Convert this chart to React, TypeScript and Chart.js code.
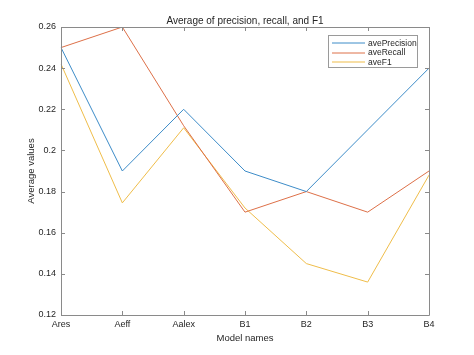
import React, { useEffect, useRef } from "react";
import { Chart, registerables } from "chart.js";

Chart.register(...registerables);

const categories = ["Ares", "Aeff", "Aalex", "B1", "B2", "B3", "B4"];
const avePrecision = [0.25, 0.19, 0.22, 0.19, 0.18, 0.21, 0.24];
const aveRecall = [0.25, 0.26, 0.212, 0.17, 0.18, 0.17, 0.19];
const aveF1 = [0.242, 0.1745, 0.211, 0.172, 0.145, 0.136, 0.188];
const seriesNames = ["avePrecision", "aveRecall", "aveF1"];
const seriesColors = ["#3d8cc8", "#dd7048", "#efbd4a"];
const yMin = 0.12;
const yMax = 0.26;
const yStep = 0.02;

const FONT = "'Liberation Sans', Arial, sans-serif";
const TEXT = "#262626";
const AXIS = "#8a8a8a";

const framePlugin = {
  id: "matlabFrame",
  afterDraw(chart: any) {
    const { ctx, chartArea } = chart;
    const { left, right, top, bottom } = chartArea;
    const xs = chart.scales.x;
    const ys = chart.scales.y;
    ctx.save();
    ctx.strokeStyle = AXIS;
    ctx.lineWidth = 1;
    ctx.beginPath();
    ctx.rect(Math.round(left) + 0.5, Math.round(top) + 0.5, Math.round(right - left), Math.round(bottom - top));
    ctx.stroke();
    const tl = 4;
    ctx.beginPath();
    for (let i = 0; i < categories.length; i++) {
      const x = Math.round(xs.getPixelForValue(i)) + 0.5;
      ctx.moveTo(x, bottom);
      ctx.lineTo(x, bottom - tl);
      ctx.moveTo(x, top);
      ctx.lineTo(x, top + tl);
    }
    for (let v = yMin; v <= yMax + 1e-9; v += yStep) {
      const y = Math.round(ys.getPixelForValue(v)) + 0.5;
      ctx.moveTo(left, y);
      ctx.lineTo(left + tl, y);
      ctx.moveTo(right, y);
      ctx.lineTo(right - tl, y);
    }
    ctx.stroke();

    // legend box
    const bx = 328.5, by = 35.5, bw = 89, bh = 32;
    ctx.fillStyle = "#ffffff";
    ctx.fillRect(bx, by, bw, bh);
    ctx.strokeStyle = "#9a9a9a";
    ctx.strokeRect(bx, by, bw, bh);
    ctx.font = `8.5px ${FONT}`;
    ctx.textBaseline = "middle";
    ctx.textAlign = "left";
    seriesNames.forEach((name, i) => {
      const y = 43 + i * 9.5;
      ctx.strokeStyle = seriesColors[i];
      ctx.lineWidth = 1;
      ctx.beginPath();
      ctx.moveTo(332, Math.round(y));
      ctx.lineTo(365, Math.round(y));
      ctx.stroke();
      ctx.fillStyle = TEXT;
      ctx.fillText(name, 368, y + 0.5);
    });
    ctx.restore();
  },
};

export default function App() {
  const ref = useRef<HTMLCanvasElement>(null);
  useEffect(() => {
    if (!ref.current) return;
    const data = [avePrecision, aveRecall, aveF1];
    const chart = new Chart(ref.current, {
      type: "line",
      data: {
        labels: categories,
        datasets: seriesNames.map((name, i) => ({
          label: name,
          data: data[i],
          borderColor: seriesColors[i],
          backgroundColor: seriesColors[i],
          borderWidth: 1,
          pointRadius: 0,
          tension: 0,
          fill: false,
        })),
      },
      options: {
        animation: false,
        responsive: true,
        maintainAspectRatio: false,
        layout: { padding: { left: 0, right: 45, top: 0, bottom: 0 } },
        plugins: {
          legend: { display: false },
          tooltip: { enabled: false },
          title: {
            display: true,
            fullSize: false,
            text: "Average of precision, recall, and F1",
            color: TEXT,
            font: { family: FONT, size: 10, weight: "normal" },
            padding: { top: 15, bottom: 0 },
          },
        },
        scales: {
          x: {
            type: "category",
            offset: false,
            grid: { display: false, drawTicks: false },
            border: { display: false },
            ticks: {
              color: TEXT,
              font: { family: FONT, size: 9 },
              padding: 4,
              maxRotation: 0,
              autoSkip: false,
            },
            title: {
              display: true,
              text: "Model names",
              color: TEXT,
              font: { family: FONT, size: 9.5 },
              padding: { top: 0, bottom: 11 },
            },
            afterFit(scale: any) {
              scale.height = 40;
            },
          },
          y: {
            min: yMin,
            max: yMax,
            grid: { display: false, drawTicks: false },
            border: { display: false },
            ticks: {
              stepSize: yStep,
              color: TEXT,
              font: { family: FONT, size: 9 },
              padding: 5,
              callback: (v: any) => String(parseFloat(Number(v).toFixed(2))),
            },
            title: {
              display: true,
              text: "Average values",
              color: TEXT,
              font: { family: FONT, size: 9.5 },
              padding: { top: 26, bottom: 0 },
            },
            afterFit(scale: any) {
              scale.width = 61;
            },
          },
        },
      },
      plugins: [framePlugin],
    });
    return () => chart.destroy();
  }, []);
  return (
    <div style={{ position: "absolute", left: 0, top: 0, width: 474, height: 355, background: "#fff" }}>
      <canvas ref={ref} />
    </div>
  );
}
